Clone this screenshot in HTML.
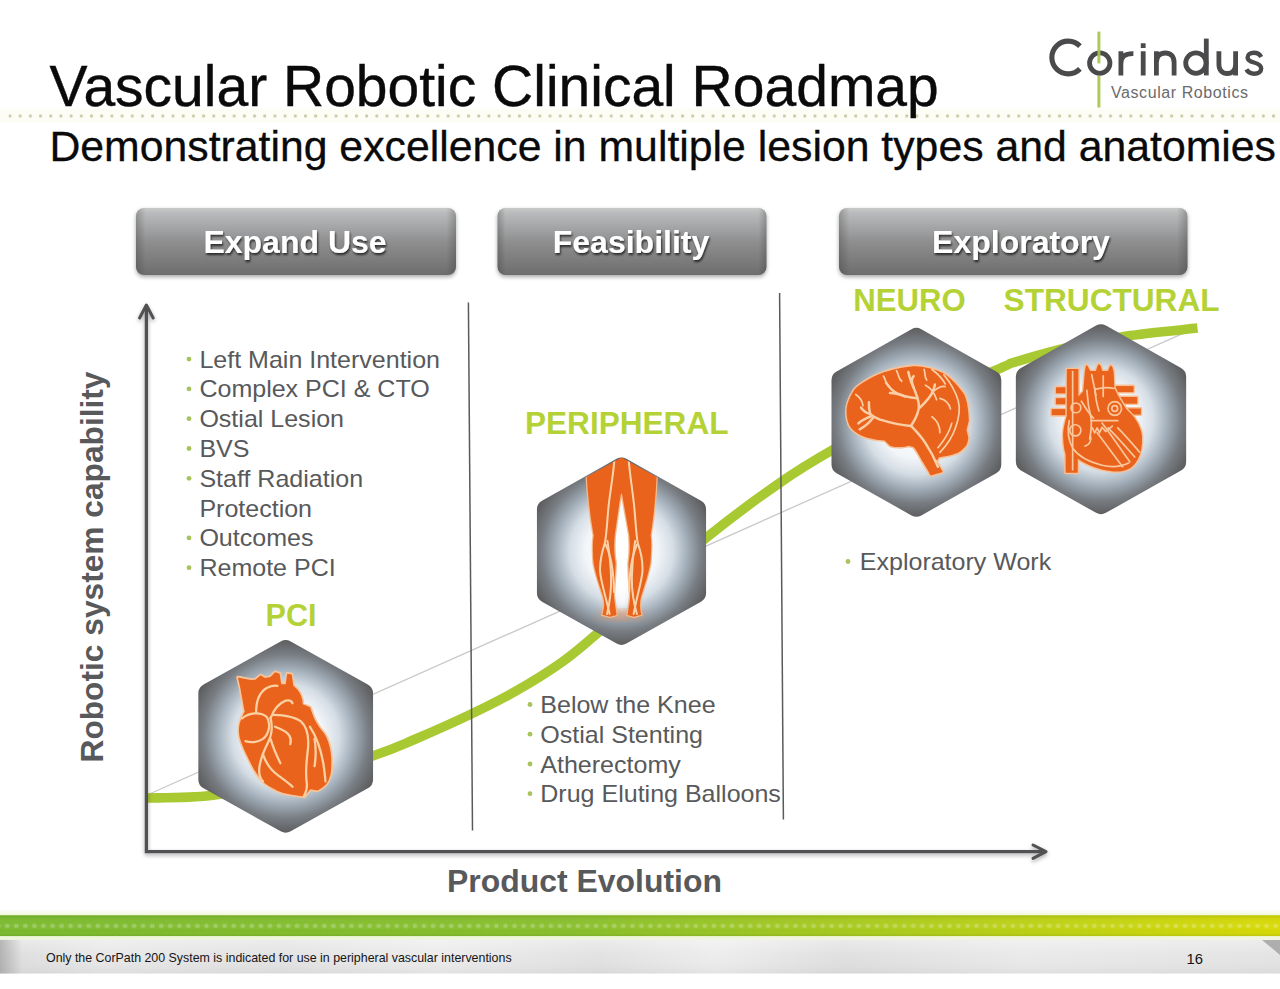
<!DOCTYPE html>
<html>
<head>
<meta charset="utf-8">
<title>Vascular Robotic Clinical Roadmap</title>
<style>
html,body{margin:0;padding:0;background:#ffffff;}
body{width:1280px;height:989px;overflow:hidden;position:relative;font-family:"Liberation Sans",sans-serif;}
svg{position:absolute;left:0;top:0;display:block;}
text{font-family:"Liberation Sans",sans-serif;}
</style>
</head>
<body>
<svg width="1280" height="989" viewBox="0 0 1280 989">
<defs>
  <linearGradient id="pill" x1="0" y1="0" x2="0" y2="1">
    <stop offset="0" stop-color="#c9c9c9"/>
    <stop offset="0.08" stop-color="#b9babb"/>
    <stop offset="0.5" stop-color="#8f8f90"/>
    <stop offset="1" stop-color="#6d6d6d"/>
  </linearGradient>
  <linearGradient id="pilledge" x1="0" y1="0" x2="1" y2="0">
    <stop offset="0" stop-color="#303030" stop-opacity="0.28"/>
    <stop offset="0.03" stop-color="#303030" stop-opacity="0"/>
    <stop offset="0.97" stop-color="#303030" stop-opacity="0"/>
    <stop offset="1" stop-color="#303030" stop-opacity="0.28"/>
  </linearGradient>
  <radialGradient id="hexg" gradientUnits="userSpaceOnUse" cx="0" cy="0" r="100">
    <stop offset="0" stop-color="#ffffff"/>
    <stop offset="0.36" stop-color="#f3f6f9"/>
    <stop offset="0.52" stop-color="#d5dde5"/>
    <stop offset="0.66" stop-color="#a3afba"/>
    <stop offset="0.8" stop-color="#7a7f85"/>
    <stop offset="0.92" stop-color="#626365"/>
    <stop offset="1" stop-color="#565758"/>
  </radialGradient>
  <path id="hexshape" d="M0,-84.4 L74.9,-42.2 V42.2 L0,84.4 L-74.9,42.2 V-42.2 Z" fill="url(#hexg)" stroke="url(#hexg)" stroke-width="20" stroke-linejoin="round"/>
  <linearGradient id="band" x1="0" y1="0" x2="1" y2="0">
    <stop offset="0" stop-color="#78b82a"/>
    <stop offset="0.45" stop-color="#86bd28"/>
    <stop offset="0.8" stop-color="#b9cf10"/>
    <stop offset="1" stop-color="#d6d800"/>
  </linearGradient>
  <filter id="sh" x="-10%" y="-20%" width="120%" height="150%">
    <feGaussianBlur in="SourceAlpha" stdDeviation="2"/>
    <feOffset dx="0" dy="2"/>
    <feComponentTransfer><feFuncA type="linear" slope="0.35"/></feComponentTransfer>
    <feMerge><feMergeNode/><feMergeNode in="SourceGraphic"/></feMerge>
  </filter>
  <filter id="tsh" x="-10%" y="-20%" width="120%" height="150%">
    <feGaussianBlur in="SourceAlpha" stdDeviation="1.2"/>
    <feOffset dx="1" dy="2"/>
    <feComponentTransfer><feFuncA type="linear" slope="0.7"/></feComponentTransfer>
    <feMerge><feMergeNode/><feMergeNode in="SourceGraphic"/></feMerge>
  </filter>
  <filter id="blur8" x="-50%" y="-20%" width="200%" height="140%"><feGaussianBlur stdDeviation="22"/></filter>
  <pattern id="dots" x="8.5" y="114.5" width="10.19" height="3" patternUnits="userSpaceOnUse">
    <rect x="0" y="0" width="3" height="2.8" rx="1" fill="#c2c8a2"/>
  </pattern>
  <pattern id="bdots" x="2.5" y="915.3" width="9.06" height="21" patternUnits="userSpaceOnUse">
    <rect x="2.5" y="8.4" width="4.4" height="4.4" rx="1.6" fill="#ffffff" fill-opacity="0.22"/>
  </pattern>
  <linearGradient id="bandv" x1="0" y1="0" x2="0" y2="1">
    <stop offset="0" stop-color="#3c5a00" stop-opacity="0.16"/>
    <stop offset="0.3" stop-color="#ffffff" stop-opacity="0.04"/>
    <stop offset="0.5" stop-color="#ffffff" stop-opacity="0.08"/>
    <stop offset="0.75" stop-color="#ffffff" stop-opacity="0"/>
    <stop offset="1" stop-color="#3c5a00" stop-opacity="0.16"/>
  </linearGradient>
  <linearGradient id="bandglow" x1="0" y1="0" x2="0" y2="1">
    <stop offset="0" stop-color="#f3f8e2" stop-opacity="0"/>
    <stop offset="1" stop-color="#eef6d2" stop-opacity="1"/>
  </linearGradient>
  <linearGradient id="gband" x1="0" y1="0" x2="1" y2="0">
    <stop offset="0" stop-color="#dcdcdc"/>
    <stop offset="0.08" stop-color="#e7e7e7"/>
    <stop offset="0.22" stop-color="#e2e2e3"/>
    <stop offset="0.34" stop-color="#ebebeb"/>
    <stop offset="0.47" stop-color="#e1e1e2"/>
    <stop offset="0.56" stop-color="#ececec"/>
    <stop offset="0.66" stop-color="#dfdfe0"/>
    <stop offset="0.8" stop-color="#e9e9e9"/>
    <stop offset="1" stop-color="#e3e3e4"/>
  </linearGradient>
  <linearGradient id="gbandv" x1="0" y1="0" x2="0" y2="1">
    <stop offset="0" stop-color="#ffffff" stop-opacity="0.35"/>
    <stop offset="0.5" stop-color="#ffffff" stop-opacity="0"/>
    <stop offset="1" stop-color="#000000" stop-opacity="0.04"/>
  </linearGradient>
  <linearGradient id="lfade" x1="0" y1="0" x2="1" y2="0">
    <stop offset="0" stop-color="#8f8f8f" stop-opacity="0.55"/>
    <stop offset="1" stop-color="#8f8f8f" stop-opacity="0"/>
  </linearGradient>
</defs>

<!-- ===== header ===== -->
<g id="header">
  <rect x="0" y="108.5" width="1280" height="14" fill="#fdfdf5"/>
  <rect x="8.5" y="114.5" width="1271.5" height="3" fill="url(#dots)"/>
  <text x="49.6" y="105.9" font-size="57" fill="#0a0a0a" stroke="#0a0a0a" stroke-width="0.4">Vascular Robotic Clinical Roadmap</text>
  <text x="49.4" y="160.9" font-size="42.78" fill="#0a0a0a" stroke="#0a0a0a" stroke-width="0.3">Demonstrating excellence in multiple lesion types and anatomies</text>
</g>

<!-- ===== logo ===== -->
<g id="logo">
  <g fill="none" stroke="#4a4a4c" stroke-width="4.8">
    <path d="M1079.96,46.14 A16.35,16.35 0 1 0 1079.96,68.86" stroke-width="5.1"/>
    <circle cx="1099.75" cy="63.1" r="10.2"/>
    <path d="M1120.9,75.4 V51.2 M1120.9,63.5 C1120.9,56.2 1125.2,53.4 1133.4,53.6"/>
    <path d="M1143.2,75.4 V51.2 M1143.2,47.9 V43.2"/>
    <path d="M1156.4,75.4 V51.2 M1156.4,62.5 C1156.4,55.6 1160.4,53 1165.3,53 C1170.4,53 1174.1,55.8 1174.1,62.5 V75.4"/>
    <circle cx="1195.9" cy="63.1" r="10.2"/>
    <path d="M1206.3,38.6 V75.4"/>
    <path d="M1218.9,51.2 V64.2 C1218.9,70.8 1222.6,73.5 1227.3,73.5 C1232,73.5 1235.6,70.8 1235.6,64.2 M1235.6,51.2 V75.4"/>
    <path d="M1261.2,57 C1259.6,54 1257,52.8 1253.9,52.8 C1250.2,52.8 1247.6,54.5 1247.6,57.4 C1247.6,60.4 1250.4,61.5 1254,62.5 C1258.2,63.7 1261.2,65.1 1261.2,68.6 C1261.2,71.8 1258.2,73.7 1254.3,73.7 C1250.8,73.7 1248,72.4 1246.4,69.4" stroke-width="4.4"/>
  </g>
  <rect x="1097.4" y="31.6" width="3" height="31.8" fill="#a9c64a" fill-opacity="0.92"/>
  <rect x="1097.4" y="75.8" width="3" height="31.7" fill="#a9c64a" fill-opacity="0.92"/>
  <text x="1111" y="98" font-size="16" textLength="137" lengthAdjust="spacing" fill="#6a6b6d">Vascular Robotics</text>
</g>

<!-- ===== pills ===== -->
<g id="pills" filter="url(#sh)">
  <rect x="136" y="208" width="320" height="67" rx="8" fill="url(#pill)"/>
  <rect x="497.5" y="208" width="269" height="67" rx="8" fill="url(#pill)"/>
  <rect x="839" y="208" width="348.5" height="67" rx="8" fill="url(#pill)"/>
</g>
<g id="pilledges">
  <rect x="136" y="208" width="320" height="67" rx="8" fill="url(#pilledge)"/>
  <rect x="497.5" y="208" width="269" height="67" rx="8" fill="url(#pilledge)"/>
  <rect x="839" y="208" width="348.5" height="67" rx="8" fill="url(#pilledge)"/>
</g>
<g id="pilltext" font-size="32" font-weight="700" fill="#ffffff" text-anchor="middle" filter="url(#tsh)">
  <text x="295" y="252.6">Expand Use</text>
  <text x="631" y="252.6">Feasibility</text>
  <text x="1021" y="252.6">Exploratory</text>
</g>

<!-- ===== chart ===== -->
<g id="chart">
  <line x1="146" y1="795.5" x2="1196" y2="327.7" stroke="#c9c9c9" stroke-width="1.3"/>
  <path id="curve" d="M146,798 C156.8,797.6 187.0,798.3 211,795.5 C235.0,792.7 262.9,787.6 290,781 C317.1,774.4 352.4,762.7 373.3,755.7 C394.2,748.7 399.1,746.0 415.6,739 C432.1,732.0 455.6,721.5 472.3,713.5 C489.0,705.5 501.1,699.6 515.7,691.2 C530.4,682.9 547.2,672.5 560.2,663.4 C573.2,654.3 578.5,649.4 593.5,636.7 C608.5,624.0 631.0,603.7 650,587 C669.0,570.3 685.8,554.1 707.5,536.7 C729.2,519.3 759.5,496.9 780.3,482.5 C801.1,468.1 809.5,463.1 832.1,450.2 C854.7,437.3 887.9,418.7 916,405 C944.1,391.3 984.0,375.4 1000.6,368.2 C1017.2,361.0 1004.0,365.4 1015.6,361.9 C1027.2,358.4 1050.9,351.4 1070,347 C1089.1,342.6 1108.8,338.8 1130,335.6 C1151.2,332.5 1186.2,329.4 1197.5,328.1"
        fill="none" stroke="#a9c932" stroke-width="9.6"/>
  <line x1="468.4" y1="302.5" x2="472.5" y2="830.4" stroke="#5a5a5a" stroke-width="1.5"/>
  <line x1="779.6" y1="293" x2="783.4" y2="819.4" stroke="#5a5a5a" stroke-width="1.5"/>
  <g filter="url(#sh)">
    <path d="M146.4,305.5 V851.7 H1045.5" fill="none" stroke="#515153" stroke-width="3.3"/>
    <path d="M139.6,318 L146.4,305 L153.2,318" fill="none" stroke="#515153" stroke-width="3" stroke-linecap="round" stroke-linejoin="round"/>
    <path d="M1033,845 L1046,851.7 L1033,858.4" fill="none" stroke="#515153" stroke-width="3" stroke-linecap="round" stroke-linejoin="round"/>
  </g>
</g>

<!-- ===== hexagons ===== -->
<g id="hexes">
  <g id="hexPCI" transform="translate(285.7,736.4)"><use href="#hexshape" transform="scale(1.029,1.02)"/></g>
  <g id="hexPER" transform="translate(621.5,551.2)"><use href="#hexshape" transform="scale(0.996,0.992)"/></g>
  <g id="hexNEU" transform="translate(916.4,422.3)"><use href="#hexshape"/></g>
  <g id="hexSTR" transform="translate(1101,419.2)"><use href="#hexshape" transform="scale(1.003,1.006)"/></g>
</g>

<!-- ===== organ icons ===== -->
<g id="icons" stroke-linecap="round" stroke-linejoin="round">
  <!-- PCI heart : local coords = 6.59x zoom of region origin (225,660) -->
  <g id="icoHeart" transform="translate(225,660) scale(0.15175)">
    <path id="heartSil" d="M85,115 C120,120 165,135 200,130 L235,100 L262,118 L300,112 L330,80 L360,90 L370,160 L400,160 L410,90 L440,95 L450,170 C470,185 500,215 510,265 L512,292 L560,312 L575,352 C590,400 625,450 650,480 C680,520 698,590 700,650 C702,700 698,760 690,770 C680,810 660,835 610,860 L562,852 L522,900 C490,895 440,888 400,880 C360,872 300,840 260,810 C230,785 190,725 170,680 C150,640 110,560 100,520 C90,480 85,440 110,380 L130,340 C122,300 108,220 100,180 Z"
          fill="#e9631c" stroke="#f8c49a" stroke-width="22" paint-order="stroke"/>
    <g fill="none" stroke="#fbd0a2" stroke-width="15">
      <path d="M205,345 C205,280 225,215 275,185 C300,172 325,168 345,170"/>
      <path d="M300,385 C320,330 355,285 400,268 C425,262 440,272 445,285"/>
      <path d="M112,385 C160,345 235,340 275,375 C305,420 290,490 250,520 C215,545 165,545 135,535"/>
      <path d="M300,380 C315,440 305,500 285,540 C255,600 225,680 225,730 C225,765 235,785 250,800"/>
      <path d="M300,520 C315,570 335,620 365,680"/>
      <path d="M320,362 C380,365 450,368 500,405 C545,445 555,520 545,600 C535,680 530,760 540,820 C540,850 530,880 520,895"/>
      <path d="M560,440 C600,500 630,580 648,680 C655,730 660,770 662,800"/>
      <path d="M330,440 C370,455 410,470 425,500 C435,520 435,540 430,555"/>
      <path d="M250,620 C270,680 300,725 350,760 C390,790 420,810 445,835"/>
      <path d="M590,520 C600,580 600,640 590,700"/>
    </g>
  </g>

  <!-- PERIPHERAL legs : local coords = 5.49x zoom of region origin (571,450) -->
  <clipPath id="clipPER"><path transform="translate(621.5,551.2) scale(0.996,0.992)" d="M0,-94.4 L84.9,-47.2 V47.2 L0,94.4 L-84.9,47.2 V-47.2 Z"/></clipPath>
  <g clip-path="url(#clipPER)">
  <g id="icoLegs" transform="translate(571,450) scale(0.18215)">
    <ellipse cx="277" cy="560" rx="70" ry="330" fill="#ffffff" fill-opacity="0.85" filter="url(#blur8)"/>
    <ellipse cx="277" cy="905" rx="130" ry="26" fill="#f08a4a" fill-opacity="0.55" filter="url(#blur8)"/>
    <path d="M86,140 L230,20 L330,20 L470,140 C466,250 452,380 437,470 C442,500 442,540 436,620 C425,680 405,740 386,800 C378,830 376,860 386,905 L345,916 L310,906 C318,860 326,820 325,790 C320,740 316,680 316,620 C322,580 326,540 320,470 C308,400 292,310 281,246 L277,238 L273,246 C262,310 250,400 240,470 C234,540 238,580 245,620 C244,680 238,740 235,790 C236,820 244,860 250,906 L215,916 L172,905 C186,860 184,830 175,800 C155,740 134,680 124,620 C118,540 120,500 125,470 C108,380 92,250 86,140 Z"
          fill="#e9631c" stroke="#f6b98a" stroke-width="14" paint-order="stroke"/>
    <g fill="none" stroke="#fbd3aa" stroke-width="11">
      <path d="M240,30 C236,120 215,220 205,320 C198,400 196,460 186,510 C170,560 156,610 160,670 C165,730 190,800 212,900"/>
      <path d="M200,500 C210,560 218,620 220,700 C222,770 212,840 198,900"/>
      <path d="M190,520 C230,600 235,700 236,780"/>
      <path d="M315,30 C320,120 338,220 348,320 C355,400 358,460 366,510 C384,560 396,610 392,670 C386,730 362,800 344,900"/>
      <path d="M352,500 C342,560 335,620 334,700 C333,770 344,840 362,900"/>
      <path d="M362,520 C326,600 320,700 320,780"/>
    </g>
  </g>
  </g>

  <!-- NEURO brain : local coords = 7.607x zoom of region origin (840,355) -->
  <g id="icoBrain" transform="translate(840,355) scale(0.13146)">
    <path d="M50,430 C50,390 58,345 110,262 C140,225 250,160 310,140 C370,118 480,90 560,85 C620,82 720,105 790,140 C840,170 910,245 945,300 C965,340 978,420 980,500 L962,570 L976,630 C972,670 960,695 950,700 C930,725 900,745 880,750 C850,762 800,772 750,780 L742,800 L722,792 L782,890 L690,916 C670,880 650,850 640,830 C625,805 610,780 600,760 C588,740 575,715 560,700 L520,690 C490,700 465,702 440,700 C415,700 395,695 380,690 L340,650 C310,648 285,644 260,640 C230,634 200,628 180,620 C150,610 125,592 110,580 C85,560 70,540 65,520 C55,495 50,460 50,430 Z"
          fill="#e9631c" stroke="#f7c096" stroke-width="24" paint-order="stroke"/>
    <g fill="none" stroke="#fbcfa6" stroke-width="19">
      <path d="M745,850 C720,790 690,730 650,670 C620,625 580,580 540,540 C580,480 605,430 600,380 C595,320 560,250 540,200 C530,170 524,150 520,130"/>
      <path d="M540,540 C470,535 380,515 300,490 C270,478 245,462 230,450"/>
      <path d="M230,450 C222,420 218,390 220,360"/>
      <path d="M230,450 C200,440 175,425 160,400"/>
      <path d="M240,465 C200,480 160,500 140,520"/>
      <path d="M250,480 C220,520 180,550 150,565"/>
      <path d="M608,400 C650,360 690,320 705,280 C715,255 720,240 722,225"/>
      <path d="M590,330 C540,325 480,315 430,290 C395,270 370,240 350,210"/>
      <path d="M500,318 C460,300 420,290 380,290"/>
      <path d="M560,250 C545,215 535,185 560,160"/>
    </g>
    <g fill="none" stroke="#fbcfa6" stroke-width="13">
      <path d="M790,150 C840,210 880,280 900,350 C915,410 905,480 880,550 C860,610 820,680 760,740"/>
      <path d="M850,520 C835,580 800,640 745,705"/>
      <path d="M700,110 C740,140 780,180 800,220"/>
      <path d="M650,230 C690,250 720,290 735,340"/>
      <path d="M705,280 C740,250 770,235 800,240"/>
      <path d="M760,330 C800,340 830,370 840,410"/>
      <path d="M430,120 C450,150 440,180 470,200"/>
      <path d="M330,160 C350,190 345,215 370,235"/>
      <path d="M640,110 C650,140 640,165 660,190"/>
      <path d="M700,470 C740,500 760,540 760,590"/>
      <path d="M120,300 C150,320 170,350 175,385"/>
    </g>
  </g>

  <!-- STRUCTURAL heart : local coords = 8.245x zoom of region origin (1045,360) -->
  <g id="icoStruct" transform="translate(1045,360) scale(0.12128)">
    <g fill="#e9631c" stroke="#f7c096" stroke-width="24" paint-order="stroke">
      <rect x="90" y="225" width="100" height="50"/>
      <rect x="90" y="315" width="100" height="50"/>
      <rect x="55" y="405" width="135" height="50"/>
      <rect x="560" y="215" width="170" height="50"/>
      <rect x="590" y="305" width="170" height="55"/>
      <rect x="670" y="400" width="120" height="50"/>
      <path d="M180,75 H275 V300 L315,260 L328,100 L335,58 L343,40 L356,58 L372,90 L420,90 L432,52 L446,30 L460,52 L472,90 L520,90 L532,58 L544,43 L556,60 L566,100 L572,230 L600,290 C630,340 660,400 700,435 C750,480 795,560 800,630 C802,700 795,760 770,810 C745,860 715,890 680,902 C640,920 590,922 550,918 C500,912 450,900 410,885 C360,868 310,845 270,815 V930 H170 V775 C160,750 152,700 150,640 C148,590 155,545 180,462 Z"/>
    </g>
    <g fill="none" stroke="#fbc79c" stroke-width="14">
      <circle cx="255" cy="395" r="40"/>
      <circle cx="250" cy="580" r="46"/>
      <circle cx="575" cy="400" r="56"/>
      <circle cx="575" cy="400" r="24"/>
      <path d="M200,500 C185,570 185,650 230,730 C280,800 380,845 470,868 C540,885 620,885 690,850"/>
      <path d="M470,520 C540,610 620,730 700,840"/>
      <path d="M520,560 C600,640 670,720 740,800"/>
      <path d="M600,560 C660,620 720,690 780,760"/>
      <path d="M430,600 C500,690 570,790 640,880"/>
      <path d="M345,250 C350,330 362,410 380,480 C385,530 380,590 368,650"/>
      <path d="M410,230 C415,300 425,360 445,420"/>
      <path d="M380,500 H600"/>
      <path d="M390,560 L410,600 L430,560 L450,600 L470,555 L500,590 C520,570 540,560 555,545"/>
      <path d="M300,340 C330,390 360,440 400,480"/>
      <path d="M330,710 C370,700 385,660 375,625"/>
      <path d="M228,95 V905"/>
      <path d="M385,120 L420,290"/>
      <path d="M480,130 L480,300"/>
      <path d="M420,240 C470,225 530,225 570,235"/>
    </g>
  </g>
</g>

<!-- ===== labels ===== -->
<g id="labels" font-weight="700" fill="#b4d236" font-size="31.2">
  <text x="265.6" y="626.3" textLength="51" lengthAdjust="spacingAndGlyphs">PCI</text>
  <text x="525" y="434" textLength="203.5" lengthAdjust="spacingAndGlyphs">PERIPHERAL</text>
  <text x="853.3" y="311.2" textLength="112.5" lengthAdjust="spacingAndGlyphs">NEURO</text>
  <text x="1003.6" y="311.2" textLength="216" lengthAdjust="spacingAndGlyphs">STRUCTURAL</text>
</g>

<!-- ===== bullets ===== -->
<g id="bul1" fill="#58595b">
  <circle cx="189" cy="359.1" r="2.4" fill="#a8c25c"/>
  <text transform="translate(199.4,367.6) scale(1.052,1)" font-size="23.8">Left Main Intervention</text>
  <circle cx="189" cy="388.9" r="2.4" fill="#a8c25c"/>
  <text transform="translate(199.4,397.4) scale(1.052,1)" font-size="23.8">Complex PCI &amp; CTO</text>
  <circle cx="189" cy="418.7" r="2.4" fill="#a8c25c"/>
  <text transform="translate(199.4,427.2) scale(1.052,1)" font-size="23.8">Ostial Lesion</text>
  <circle cx="189" cy="448.5" r="2.4" fill="#a8c25c"/>
  <text transform="translate(199.4,457.0) scale(1.052,1)" font-size="23.8">BVS</text>
  <circle cx="189" cy="478.3" r="2.4" fill="#a8c25c"/>
  <text transform="translate(199.4,486.8) scale(1.052,1)" font-size="23.8">Staff Radiation</text>
  <text transform="translate(199.4,516.6) scale(1.052,1)" font-size="23.8">Protection</text>
  <circle cx="189" cy="537.9" r="2.4" fill="#a8c25c"/>
  <text transform="translate(199.4,546.4) scale(1.052,1)" font-size="23.8">Outcomes</text>
  <circle cx="189" cy="567.7" r="2.4" fill="#a8c25c"/>
  <text transform="translate(199.4,576.2) scale(1.052,1)" font-size="23.8">Remote PCI</text>
</g>
<g id="bul2" fill="#58595b">
  <circle cx="530" cy="704.5" r="2.4" fill="#a8c25c"/>
  <text transform="translate(540.3,713.0) scale(1.052,1)" font-size="23.8">Below the Knee</text>
  <circle cx="530" cy="734.2" r="2.4" fill="#a8c25c"/>
  <text transform="translate(540.3,742.7) scale(1.052,1)" font-size="23.8">Ostial Stenting</text>
  <circle cx="530" cy="764.0" r="2.4" fill="#a8c25c"/>
  <text transform="translate(540.3,772.5) scale(1.052,1)" font-size="23.8">Atherectomy</text>
  <circle cx="530" cy="793.7" r="2.4" fill="#a8c25c"/>
  <text transform="translate(540.3,802.2) scale(1.052,1)" font-size="23.8">Drug Eluting Balloons</text>
</g>
<g id="bul3" fill="#58595b">
  <circle cx="848" cy="561.5" r="2.4" fill="#a8c25c"/>
  <text transform="translate(859.8,570.0) scale(1.052,1)" font-size="23.8">Exploratory Work</text>
</g>

<!-- ===== axis titles ===== -->
<text x="447" y="892.4" font-size="30.5" font-weight="700" fill="#58595b" textLength="275" lengthAdjust="spacingAndGlyphs">Product Evolution</text>
<text transform="translate(102.6,762.5) rotate(-90)" font-size="31" font-weight="700" fill="#58595b" textLength="391" lengthAdjust="spacingAndGlyphs">Robotic system capability</text>

<!-- ===== footer ===== -->
<g id="footer">
  <rect x="0" y="909" width="1280" height="7" fill="url(#bandglow)"/>
  <rect x="0" y="915.3" width="1280" height="21" fill="url(#band)"/>
  <rect x="0" y="915.3" width="1280" height="21" fill="url(#bandv)"/>
  <rect x="0" y="915.3" width="1280" height="21" fill="url(#bdots)"/>
  <rect x="0" y="936.3" width="1280" height="3.6" fill="#f0f6dc"/>
  <rect x="0" y="939.9" width="1280" height="33.6" fill="url(#gband)"/>
  <rect x="0" y="939.9" width="1280" height="33.6" fill="url(#gbandv)"/>
  <rect x="0" y="939.9" width="22" height="33.6" fill="url(#lfade)"/>
  <path d="M1262,939.9 H1280 V955 Z" fill="#9a9a9a" fill-opacity="0.75"/>
  <text x="46" y="961.6" font-size="12.4" fill="#151515">Only the CorPath 200 System is indicated for use in peripheral vascular interventions</text>
  <text x="1186.6" y="963.8" font-size="14.8" fill="#151515">16</text>
</g>
</svg>
</body>
</html>
